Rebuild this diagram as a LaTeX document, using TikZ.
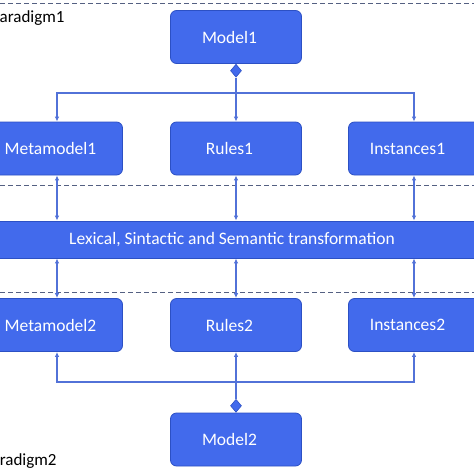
\documentclass[tikz,border=0pt]{standalone}
\usepackage{fontspec}
\setmainfont{Carlito}
\usetikzlibrary{arrows.meta,shapes.geometric}
\definecolor{boxblue}{RGB}{66,106,236}
\definecolor{boxedge}{RGB}{44,80,196}
\definecolor{linkblue}{RGB}{82,114,216}
\definecolor{sepgray}{RGB}{84,96,130}
\tikzset{
  block/.style={rectangle, rounded corners=6pt, fill=boxblue, draw=boxedge, line width=0.8pt,
    text=white, font=\fontsize{17.5}{20}\selectfont, minimum width=131pt, minimum height=53pt, inner sep=0pt,
    execute at begin node={\hspace*{-13pt}}},
  band/.style={rectangle, fill=boxblue, draw=boxedge, line width=0.8pt, text=white,
    font=\fontsize{17.5}{20}\selectfont, minimum width=520pt, minimum height=37pt, inner sep=0pt,
    execute at begin node={\hspace*{-10pt}}},
  joint/.style={diamond, fill=boxblue, draw=boxedge, line width=0.6pt, inner sep=0pt,
    minimum width=11pt, minimum height=13pt},
  link/.style={draw=linkblue, line width=1.1pt},
  separator/.style={draw=sepgray, line width=0.9pt, dash pattern=on 5pt off 3pt},
  paradigm/.style={font=\fontsize{17}{19}\selectfont, text=black, anchor=base west, inner sep=0pt}
}
\begin{document}
\begin{tikzpicture}[x=1pt, y=-1pt, >={Latex[length=5pt,width=4.5pt]}]
  \useasboundingbox (0,0) rectangle (474,474);
  % Separators between the layers.
  \draw[separator] (0,3) -- (474,3);
  \draw[separator] (0,185) -- (474,185);
  \draw[separator] (0,292) -- (474,292);
  \node[paradigm] (par1) at (-9,22) {Paradigm1};
  \node[paradigm] (par2) at (-17,465) {Paradigm2};
  % First paradigm.
  \node[block] (model1) at (236,37) {Model1};
  \node[block] (meta1) at (57,148.5) {Metamodel1};
  \node[block] (rules1) at (236,148.5) {Rules1};
  \node[block] (inst1) at (414,148.5) {Instances1};
  \node[joint, anchor=north] (dia1) at (model1.south) {};
  \coordinate (fork1) at (236,93);
  \draw[link] (dia1.south) -- (fork1);
  \draw[link, ->] (fork1) -| (meta1.north);
  \draw[link, ->] (fork1) -- (rules1.north);
  \draw[link, ->] (fork1) -| (inst1.north);
  % Transformation band.
  \node[band] (trans) at (237,239.5) {Lexical, Sintactic and Semantic transformation};
  \foreach \n in {meta1,rules1,inst1} {
    \draw[link, <->] (\n.south) -- (\n.south |- trans.north);
  }
  % Second paradigm.
  \node[block] (meta2) at (57,325) {Metamodel2};
  \node[block] (rules2) at (236,325) {Rules2};
  \node[block] (inst2) at (414,325) {Instances2};
  \foreach \n in {meta2,rules2,inst2} {
    \draw[link, <->] (\n.north) -- (\n.north |- trans.south);
  }
  \node[block] (model2) at (236,439.5) {Model2};
  \node[joint, anchor=south] (dia2) at (model2.north) {};
  \coordinate (fork2) at (236,382);
  \draw[link] (dia2.north) -- (fork2);
  \draw[link, ->] (fork2) -| (meta2.south);
  \draw[link, ->] (fork2) -- (rules2.south);
  \draw[link, ->] (fork2) -| (inst2.south);
\end{tikzpicture}
\end{document}
